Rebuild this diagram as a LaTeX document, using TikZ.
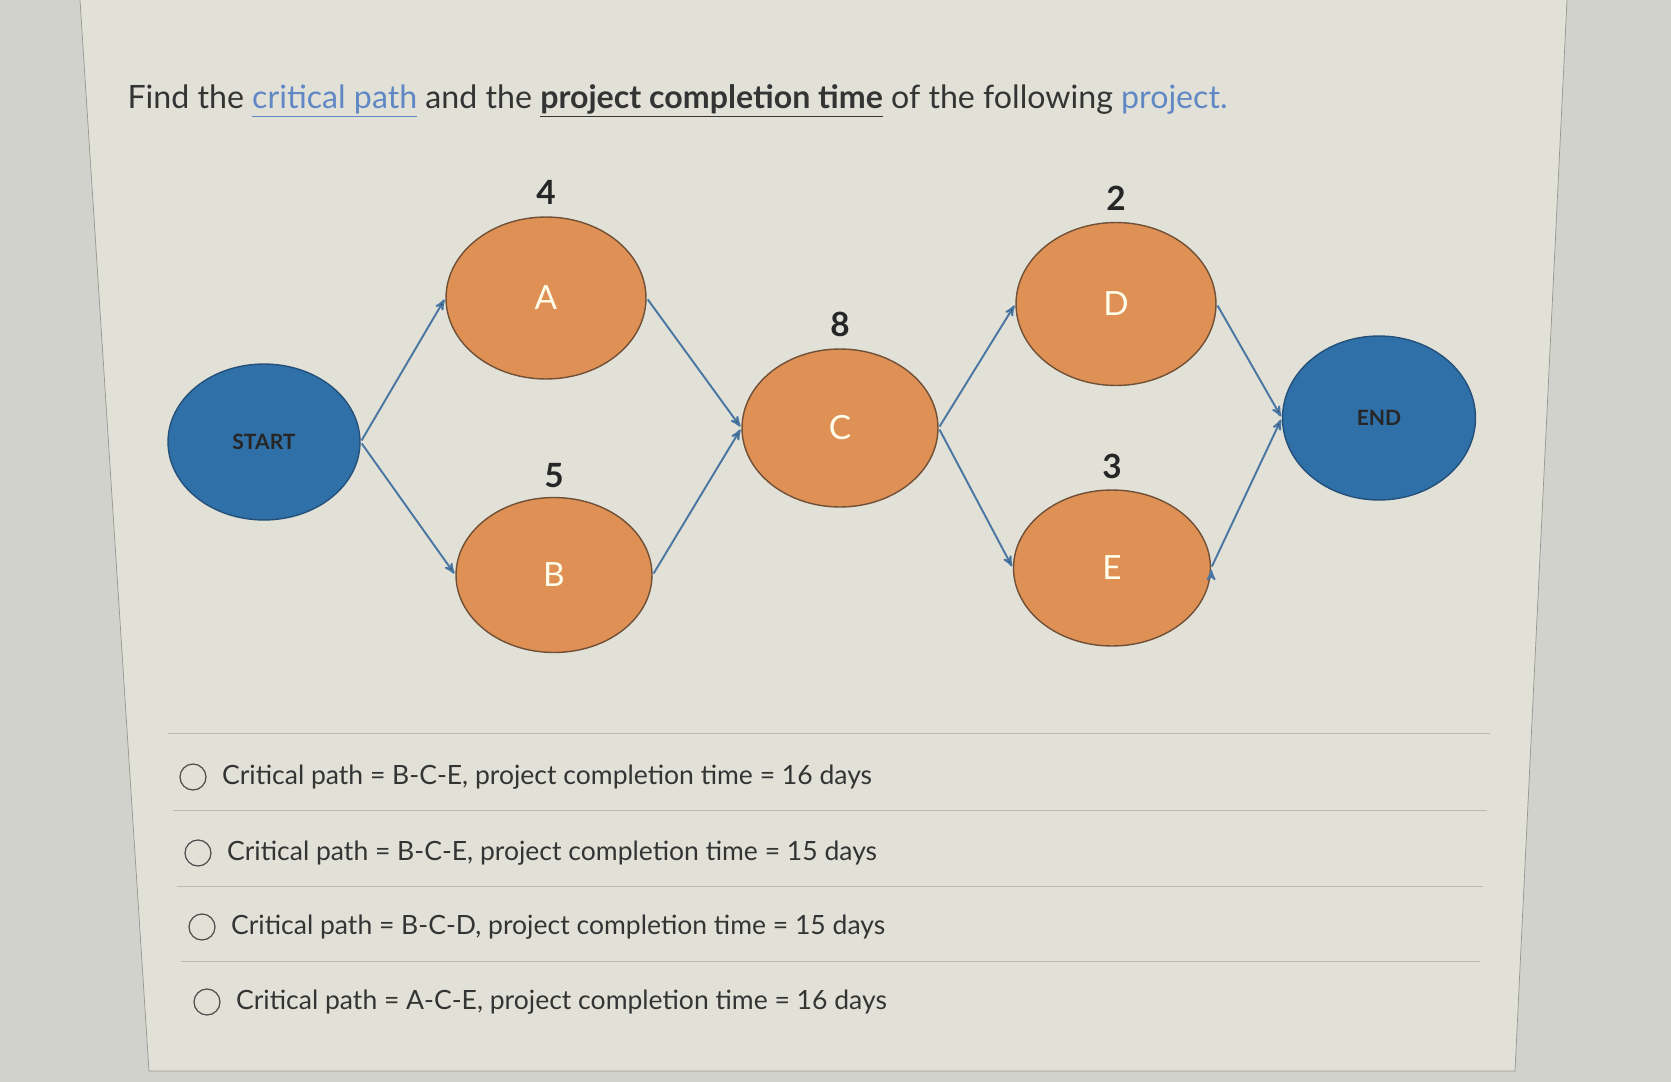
\documentclass[tikz,border=0pt]{standalone}
\usepackage{fontspec}
\setmainfont{Lato}
\usepackage{xcolor}
\usepackage{tikz}
\usetikzlibrary{arrows}
\usetikzlibrary{shapes.geometric}
\usetikzlibrary{positioning}
\definecolor{screen}{RGB}{226,225,216}
\definecolor{sidebg}{RGB}{210,210,204}
\definecolor{taskfill}{RGB}{222,144,85}
\definecolor{taskline}{RGB}{112,80,54}
\definecolor{endfill}{RGB}{48,112,168}
\definecolor{endline}{RGB}{36,80,122}
\definecolor{linkcol}{RGB}{74,118,162}
\definecolor{titlelink}{RGB}{96,136,196}
\definecolor{textgray}{RGB}{52,52,52}
\definecolor{rulegray}{RGB}{186,186,180}
\definecolor{framegray}{RGB}{150,150,146}

\begin{document}
\begin{tikzpicture}[x=0.02cm,y=-0.02cm,auto,semithick]
 \tikzstyle{task}=[draw=taskline,fill=taskfill,ellipse,line width=0.8pt,text=white!92!yellow,font=\fontsize{19}{19}\selectfont]
 \tikzstyle{term}=[draw=endline,fill=endfill,ellipse,line width=0.8pt,text=black!85,font=\fontsize{12}{12}\selectfont\bfseries]
 \tikzstyle{num}=[inner sep=0pt,text=black!85,font=\fontsize{19}{19}\selectfont\bfseries]
 \tikzstyle{link}=[->,>=stealth',draw=linkcol,line width=1.1pt,shorten <=1pt,shorten >=1pt]
 \tikzstyle{radio}=[draw=black!70,circle,line width=0.7pt,minimum size=0.52cm,inner sep=0pt]
 \tikzstyle{opt}=[inner sep=0pt,anchor=west,text=textgray,font=\fontsize{15.1}{15.1}\selectfont]
 \tikzstyle{sep}=[draw=rulegray,thin]

 % screen and frame
 \useasboundingbox (0,0) rectangle (1671,1082);
 \fill[sidebg] (0,0) rectangle (1671,1082);
 \fill[screen] (80,0) -- (149,1071) -- (1515,1071) -- (1567,0) -- cycle;
 \draw[framegray,thin] (80,0) -- (149,1071) -- (1515,1071) -- (1567,0);

 % question
 \node[anchor=west,inner sep=0pt,text=textgray,font=\fontsize{18.3}{18.3}\selectfont] (title) at (127,101)
   {Find the \textcolor{titlelink}{\underline{critical path}} and the \textbf{\underline{project completion time}} of the following \textcolor{titlelink}{project.}};

 % network
 \node[term,minimum width=3.84cm,minimum height=3.12cm] (S) at (264,442) {START};
 \node[task,minimum width=4.0cm,minimum height=3.24cm] (A) at (546,298) {A};
 \node[task,minimum width=3.92cm,minimum height=3.1cm] (B) at (554,575) {B};
 \node[task,minimum width=3.92cm,minimum height=3.16cm] (C) at (840,428) {C};
 \node[task,minimum width=4.0cm,minimum height=3.26cm] (D) at (1116,304) {D};
 \node[task,minimum width=3.94cm,minimum height=3.12cm] (E) at (1112,568) {E};
 \node[term,minimum width=3.86cm,minimum height=3.28cm] (F) at (1379,418) {END};

 \node[num] (nA) [above=0.22cm of A] {4};
 \node[num] (nB) [above=0.18cm of B] {5};
 \node[num] (nC) [above=0.22cm of C] {8};
 \node[num] (nD) [above=0.22cm of D] {2};
 \node[num] (nE) [above=0.2cm of E] {3};

 \path[link]
  (S.east) edge (A.west)
  (S.east) edge (B.west)
  (A.east) edge (C.west)
  (B.east) edge (C.west)
  (C.east) edge (D.west)
  (C.east) edge (E.west)
  (D.east) edge (F.west)
  (E.east) edge (F.west);

 % answers
 \draw[sep] (168,733) -- (1490,733);
 \draw[sep] (173,810) -- (1487,810);
 \draw[sep] (177,886) -- (1483,886);
 \draw[sep] (181,961) -- (1480,961);

 \node[radio] (o1) at (193,777) {};
 \node[radio] (o2) at (198,853) {};
 \node[radio] (o3) at (202,927) {};
 \node[radio] (o4) at (207,1002) {};
 \node[opt,right=0.3cm of o1] (t1) {Critical path = B-C-E, project completion time = 16 days};
 \node[opt,right=0.3cm of o2] (t2) {Critical path = B-C-E, project completion time = 15 days};
 \node[opt,right=0.3cm of o3] (t3) {Critical path = B-C-D, project completion time = 15 days};
 \node[opt,right=0.3cm of o4] (t4) {Critical path = A-C-E, project completion time = 16 days};
\end{tikzpicture}
\end{document}
